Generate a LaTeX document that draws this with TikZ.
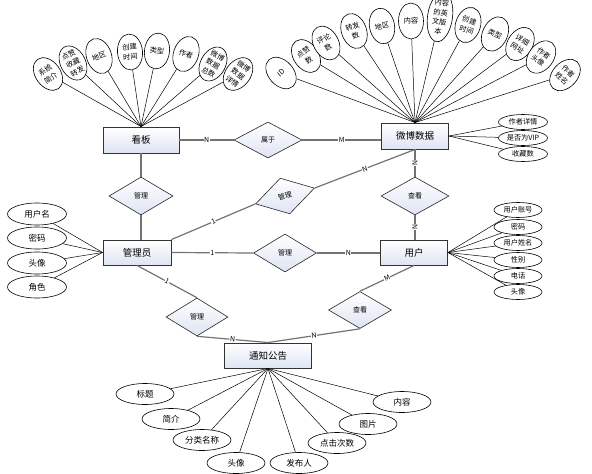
\documentclass[tikz,border=0pt]{standalone}
\usepackage{fontspec}
\setmainfont{Noto Sans CJK SC}
\usetikzlibrary{shapes.geometric}
\definecolor{erline}{RGB}{115,115,115}
\definecolor{erfill}{RGB}{222,228,243}

\begin{document}
\begin{tikzpicture}[x=1pt, y=-1pt,
  entity/.style={draw=black!80, line width=0.9pt, top color=white, bottom color=erfill,
                 minimum height=26pt, inner sep=0pt, font=\fontsize{9.5}{10}\selectfont},
  rel/.style={diamond, draw=black!85, line width=0.6pt, top color=white, bottom color=erfill,
              inner sep=0pt, minimum width=64pt, minimum height=38pt, font=\fontsize{7}{7}\selectfont},
  petal/.style={ellipse, draw, line width=0.6pt, fill=white, inner sep=0pt,
                minimum width=25pt, minimum height=36pt, align=center, font=\fontsize{7.2}{9.5}\selectfont},
  attr/.style={ellipse, draw, line width=0.6pt, fill=white, inner sep=0pt, font=\fontsize{8.5}{9}\selectfont},
  sattr/.style={attr, minimum width=48pt, minimum height=15pt, font=\fontsize{7.2}{8}\selectfont},
  battr/.style={attr, minimum width=58pt, minimum height=21pt},
  link/.style={draw=erline, line width=1.2pt},
  spoke/.style={draw, line width=0.5pt},
  card/.style={midway, sloped, fill=white, inner sep=0.5pt, font=\fontsize{7}{7}\selectfont},
]
  \useasboundingbox (0,0) rectangle (592,474);

  % entities
  \node[entity, minimum width=76pt] (kb) at (141,140) {看板};
  \node[entity, minimum width=67pt] (wb) at (415,136) {微博数据};
  \node[entity, minimum width=68pt, minimum height=25pt] (gly) at (137,252.5) {管理员};
  \node[entity, minimum width=67pt, minimum height=25pt] (yh) at (414,252.5) {用户};
  \node[entity, minimum width=87pt, minimum height=25pt] (tz) at (268,355.5) {通知公告};

  % relationships
  \node[rel, minimum width=68pt, minimum height=36pt] (sy) at (268,140) {属于};
  \node[rel] (glkb) at (141,196) {管理};
  \node[rel, minimum width=61pt, minimum height=37pt, rotate=15] (glwb) at (285,196) {管理};
  \node[rel, minimum width=68pt] (ckwb) at (415,196) {查看};
  \node[rel, minimum width=63pt] (glyh) at (285,253) {管理};
  \node[rel, minimum width=62pt] (gltz) at (197,317) {管理};
  \node[rel, minimum width=63pt, minimum height=37pt] (cktz) at (360,310) {查看};

  \draw[link] (kb.east) -- (sy.west) node[card] {N};
  \draw[link] (sy.east) -- (sy.east -| wb.west) node[card] {M};
  \draw[link] (kb.south) -- (glkb.north);
  \draw[link] (glkb.south) -- (glkb.south |- gly.north);
  \draw[link] (gly.north east) -- (glwb.west) node[card] {1};
  \draw[link] (glwb.east) -- (wb.south) node[card] {N};
  \draw[link] (ckwb.north |- wb.south) -- (ckwb.north) node[card] {N};
  \draw[link] (ckwb.south) -- (ckwb.south |- yh.north) node[card] {N};
  \draw[link] (gly.east) -- (glyh.west) node[card] {1};
  \draw[link] (glyh.east) -- (glyh.east -| yh.west) node[card] {N};
  \draw[link] (gly.south) -- (gltz.north) node[card] {1};
  \draw[link] (gltz.south) -- (tz.north) node[card] {N};
  \draw[link] (yh.south) -- (cktz.north) node[card] {M};
  \draw[link] (cktz.south) -- (tz.north) node[card] {N};

  % attributes of 看板
  \foreach \id/\txt/\px/\py/\rot in {
      a/{系统\\简介}/48/74/36, b/{点赞\\收藏\\转发}/73/63/28, c/{地区}/99/56/19,
      d/{创建\\时间}/130/52/5, e/{类型}/157/51/-7, f/{作者}/186/54/-19,
      g/{微博\\数据\\总数}/213/64/-29, h/{微博\\数据\\详情}/238/74/-37} {
    \node[petal, rotate=\rot] (kb\id) at (\px,\py) {\txt};
    \draw[spoke] (kb\id) -- (kb.north);
  }

  % attributes of 微博数据
  \foreach \id/\txt/\px/\py/\rot in {
      a/{ID}/281/73/42, b/{点赞\\数}/306/56/35, c/{评论\\数}/326/43/29,
      d/{转发\\数}/354/31/20, e/{地区}/382/26/11, f/{内容}/411/21/1,
      h/{创建\\时间}/468/25/-17, i/{类型}/495/34/-25, j/{详细\\网址}/520/44/-32,
      k/{作者\\头像}/541/57/-37, l/{作者\\姓名}/565/75/-43} {
    \node[petal, rotate=\rot] (wb\id) at (\px,\py) {\txt};
    \draw[spoke] (wb\id) -- (wb.north);
  }
  \node[petal, minimum height=44pt, rotate=-8] (wbg) at (440,17) {内容\\的英\\文版\\本};
  \draw[spoke] (wbg) -- (wb.north);

  \foreach \id/\txt/\py in {a/作者详情/122, b/是否为VIP/138, c/收藏数/154} {
    \node[sattr, minimum width=49pt] (wbr\id) at (523,\py) {\txt};
    \draw[spoke] (wbr\id) -- (wb.east);
  }

  % attributes of 管理员
  \foreach \id/\txt/\py in {a/用户名/214, b/密码/238, c/头像/263, d/角色/287} {
    \node[attr, minimum width=59pt, minimum height=22pt] (gly\id) at (37,\py) {\txt};
    \draw[spoke] (gly\id) -- (gly.west);
  }

  % attributes of 用户
  \foreach \id/\txt/\py in {a/用户账号/210, b/密码/227, c/用户姓名/243,
      d/性别/260, e/电话/276, f/头像/292} {
    \node[sattr] (yh\id) at (518,\py) {\txt};
    \draw[spoke] (yh\id) -- (yh.east);
  }

  % attributes of 通知公告
  \foreach \id/\txt/\px/\py in {a/标题/145/394, b/简介/171/419, c/分类名称/202/440,
      d/头像/236/463, e/发布人/299/463, f/点击次数/337/443, g/图片/368/424, h/内容/402/402} {
    \node[battr] (tz\id) at (\px,\py) {\txt};
    \draw[spoke] (tz\id) -- (tz.south);
  }
\end{tikzpicture}
\end{document}
